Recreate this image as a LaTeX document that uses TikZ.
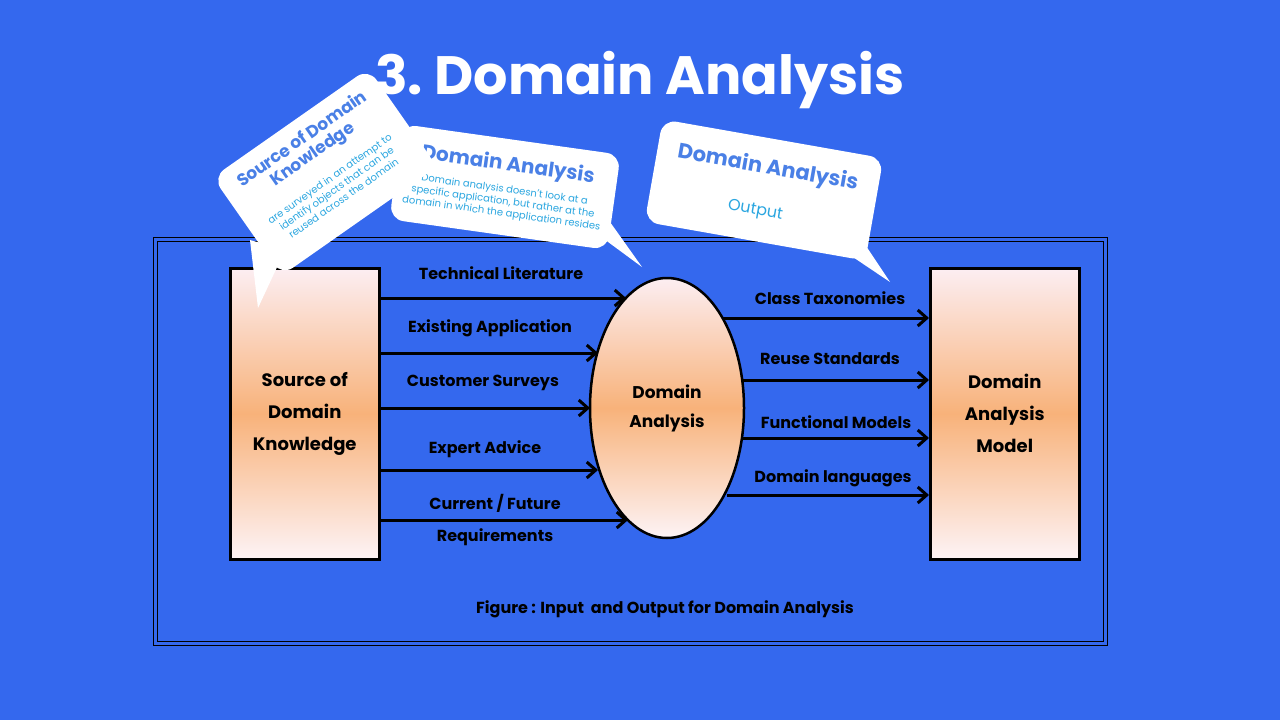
\documentclass[tikz,border=0pt]{standalone}
\usepackage{fontspec}
\setmainfont{Poppins}
\usetikzlibrary{arrows.meta,shapes.geometric}
\definecolor{bg}{HTML}{3468EE}
\definecolor{hd}{HTML}{4A80E6}
\definecolor{bd}{HTML}{2AA6E0}
\definecolor{pk}{HTML}{FCEEF2}
\definecolor{org}{HTML}{F8B27A}
\tikzset{
 lbl/.style={font=\bfseries\fontsize{16}{20}\selectfont, text=black},
 arr/.style={line width=3pt, -{Straight Barb[length=9pt,width=16pt,line width=3pt]}},
 grad/.style={draw=black, line width=2.5pt, top color=pk, bottom color=pk!70!white, middle color=org},
 bub/.style={fill=white, rounded corners=14pt},
 bubtxt/.style={align=center, text=bd, font=\fontsize{10}{12}\selectfont},
}
\begin{document}
\begin{tikzpicture}[x=1pt,y=-1pt]
\fill[bg] (0,0) rectangle (1280,720);
\useasboundingbox (0,0) rectangle (1280,720);
\node[text=white, font=\bfseries\fontsize{54}{60}\selectfont, anchor=center] (title) at (640,80) {3.\ Domain Analysis};
% frame
\draw[line width=1pt] (153,237) rectangle (1107,645);
\draw[line width=1pt] (157,241) rectangle (1103,641);
% boxes
\node[grad, minimum width=149pt, minimum height=291pt, anchor=north west, align=center, font=\bfseries\fontsize{18}{32}\selectfont] (src) at (229,267) {Source of\\Domain\\Knowledge};
\node[grad, minimum width=149pt, minimum height=291pt, anchor=north west, align=center, font=\bfseries\fontsize{18}{32}\selectfont] (mdl) at (929,267) {Domain\\Analysis\\Model};
\node[grad, ellipse, inner sep=0pt, minimum width=154pt, minimum height=260pt, align=center, font=\bfseries\fontsize{17}{29}\selectfont] (da) at (667,408) {Domain\\Analysis};
% left arrows
\foreach \y/\e [count=\i] in {298/626,353/598,408/590,470/598,520/628}{
  \coordinate (l\i) at (378,\y);
  \coordinate (le\i) at (\e,\y);
  \draw[arr] (l\i) -- (le\i);
}
\node[lbl] (t1) at (501,273) {Technical Literature};
\node[lbl] (t2) at (490,328) {Existing Application};
\node[lbl] (t3) at (483,383) {Customer Surveys};
\node[lbl] (t4) at (485,449) {Expert Advice};
\node[lbl, align=center, font=\bfseries\fontsize{16}{32}\selectfont] (t5) at (495,520) {Current / Future\\Requirements};
% right arrows
\foreach \y/\s [count=\i] in {318/722,380/742,438/742,495/727}{
  \coordinate (r\i) at (929,\y);
  \coordinate (rs\i) at (\s,\y);
  \draw[arr] (rs\i) -- (r\i);
}
\node[lbl] (u1) at (830,298) {Class Taxonomies};
\node[lbl] (u2) at (830,359) {Reuse Standards};
\node[lbl] (u3) at (836,422) {Functional Models};
\node[lbl] (u4) at (833,478) {Domain languages};
\node[lbl] (cap) at (665,609) {Figure : Input\ \ and Output for Domain Analysis};
% bubble 3
\fill[white] (835,245) -- (890,282) -- (862,240) -- cycle;
\begin{scope}[shift={(764,190)}, rotate=-10, transform shape]
\fill[bub] (-112,-52) rectangle (112,52);
\node[text=hd, font=\bfseries\fontsize{21}{24}\selectfont] (b3h) at (0,-22) {Domain Analysis};
\node[bubtxt, font=\fontsize{16}{18}\selectfont] (b3t) at (-5,22) {Output};
\end{scope}
% bubble 2
\fill[white] (585,225) -- (642,267) -- (610,222) -- cycle;
\begin{scope}[shift={(505,187)}, rotate=-8, transform shape]
\fill[bub] (-110,-48) rectangle (110,48);
\node[text=hd, font=\bfseries\fontsize{20}{24}\selectfont] (b2h) at (0,-22) {Domain Analysis};
\node[bubtxt] (b2t) at (0,15) {Domain analysis doesn't look at a\\specific application, but rather at the\\domain in which the application resides};
\end{scope}
% bubble 1
\fill[white] (250,240) -- (258,308) -- (285,250) -- cycle;
\begin{scope}[shift={(325,172)}, rotate=35, transform shape]
\fill[bub] (-95,-60) rectangle (95,60);
\node[text=hd, align=center, font=\bfseries\fontsize{17}{18}\selectfont] (b1h) at (0,-30) {Source of Domain\\Knowledge};
\node[bubtxt] (b1t) at (0,20) {are surveyed in an attempt to\\identify objects that can be\\reused across the domain};
\end{scope}
\end{tikzpicture}
\end{document}
